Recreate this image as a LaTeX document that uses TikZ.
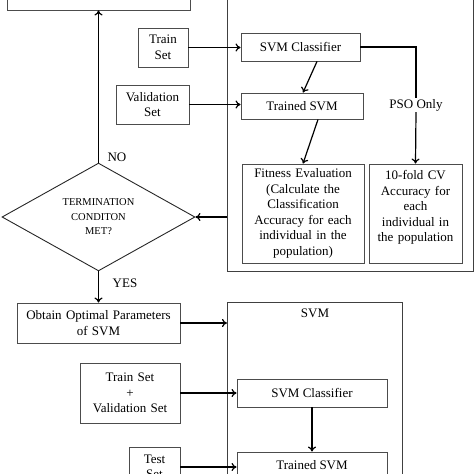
\documentclass[tikz,border=0pt]{standalone}
\usepackage{fontspec}
\setmainfont{Liberation Serif}
\usetikzlibrary{shapes.geometric,arrows.meta,calc}
\begin{document}
\begin{tikzpicture}[x=1pt,y=-1pt,
  font=\fontsize{13}{15.5}\selectfont,
  boxx/.style={draw=black!70,line width=0.9pt,align=center,inner sep=0pt},
  cont/.style={draw=black!75,line width=0.9pt},
  arr/.style={draw=black,line width=1.2pt,-{To[length=5pt,width=8pt]}},
  ln/.style={draw=black,line width=1.2pt},
  lbl/.style={inner sep=1pt}]
\useasboundingbox (0,0) rectangle (474,474);
\clip (0,0) rectangle (474,474);
% top box (cut off)
\node[boxx,minimum width=183pt,minimum height=50pt] (topbox) at (98.5,-15) {};
% container 1
\draw[cont] (227,-20) -- (227,271) -- (473,271) -- (473,-20);
\coordinate (c1w) at (227,217);
% left column inputs
\node[boxx,minimum width=50pt,minimum height=39pt,text width=48pt] (train) at (163,47.5) {Train\\Set};
\node[boxx,minimum width=73pt,minimum height=39pt,text width=71pt] (valid) at (152.5,104.5) {Validation\\Set};
% SVM
\node[boxx,minimum width=119pt,minimum height=28pt] (svmc) at (300.5,47) {SVM Classifier};
\node[boxx,minimum width=122pt,minimum height=26pt] (trained) at (302,106) {Trained SVM};
\node[boxx,minimum width=122pt,minimum height=99pt,text width=118pt] (fit) at (303,213.5) {Fitness Evaluation\\(Calculate the\\Classification\\Accuracy for each\\individual in the\\population)};
\node[boxx,minimum width=93pt,minimum height=99pt] (cv) at (415.5,213.5) {};
\node[align=center,inner sep=0pt,text width=92pt] (cvtext) at (415.5,207.5) {10-fold CV\\Accuracy for\\each\\individual in\\the population};
\node[lbl] (pso) at (416,105) {PSO Only};
% diamond
\node[draw=black!85,line width=0.9pt,diamond,minimum width=193pt,minimum height=88pt,inner sep=0pt,align=center,font=\fontsize{10.5}{14.5}\selectfont] (dia) at (98.5,217) {TERMINATION\\CONDITON\\MET?};
\node[lbl] (no) at (117,157) {NO};
\node[lbl] (yes) at (125,283) {YES};
% bottom part
\node[boxx,minimum width=163pt,minimum height=40pt,text width=161pt] (obt) at (98.5,323) {Obtain Optimal Parameters\\of SVM};
\draw[cont] (227,500) -- (227,302) -- (402,302) -- (402,500);
\coordinate (c2w) at (227,323);
\node[lbl] (svmlbl) at (315,313) {SVM};
\node[boxx,minimum width=100pt,minimum height=60pt,text width=98pt] (tv) at (130,393) {Train Set\\+\\Validation Set};
\node[boxx,minimum width=150pt,minimum height=28pt] (svmc2) at (312,393) {SVM Classifier};
\node[boxx,minimum width=150pt,minimum height=26pt] (trained2) at (312,465) {Trained SVM};
\node[boxx,minimum width=51pt,minimum height=40pt,text width=49pt] (test) at (154.5,467) {Test\\Set};
% connectors
\draw[arr] (dia.north) -- (dia.north |- topbox.south);
\draw[arr] (train.east) -- (train.east -| svmc.west);
\draw[arr] (valid.east) -- (valid.east -| trained.west);
\draw[arr] ([xshift=16.5pt]svmc.south) -- ([xshift=1pt]trained.north);
\draw[arr] ([xshift=16pt]trained.south) -- (fit.north);
\draw[ln] (svmc.east) -| (pso.north);
\draw[arr] (pso.south) -- (cv.north);
\draw[arr] (c1w) -- (dia.east);
\draw[arr] (dia.south) -- (obt.north);
\draw[arr] (obt.east) -- (c2w);
\draw[arr] (tv.east) -- (svmc2.west);
\draw[arr] (svmc2.south) -- (trained2.north);
\draw[arr] (test.east) -- (test.east -| trained2.west);
\end{tikzpicture}
\end{document}
